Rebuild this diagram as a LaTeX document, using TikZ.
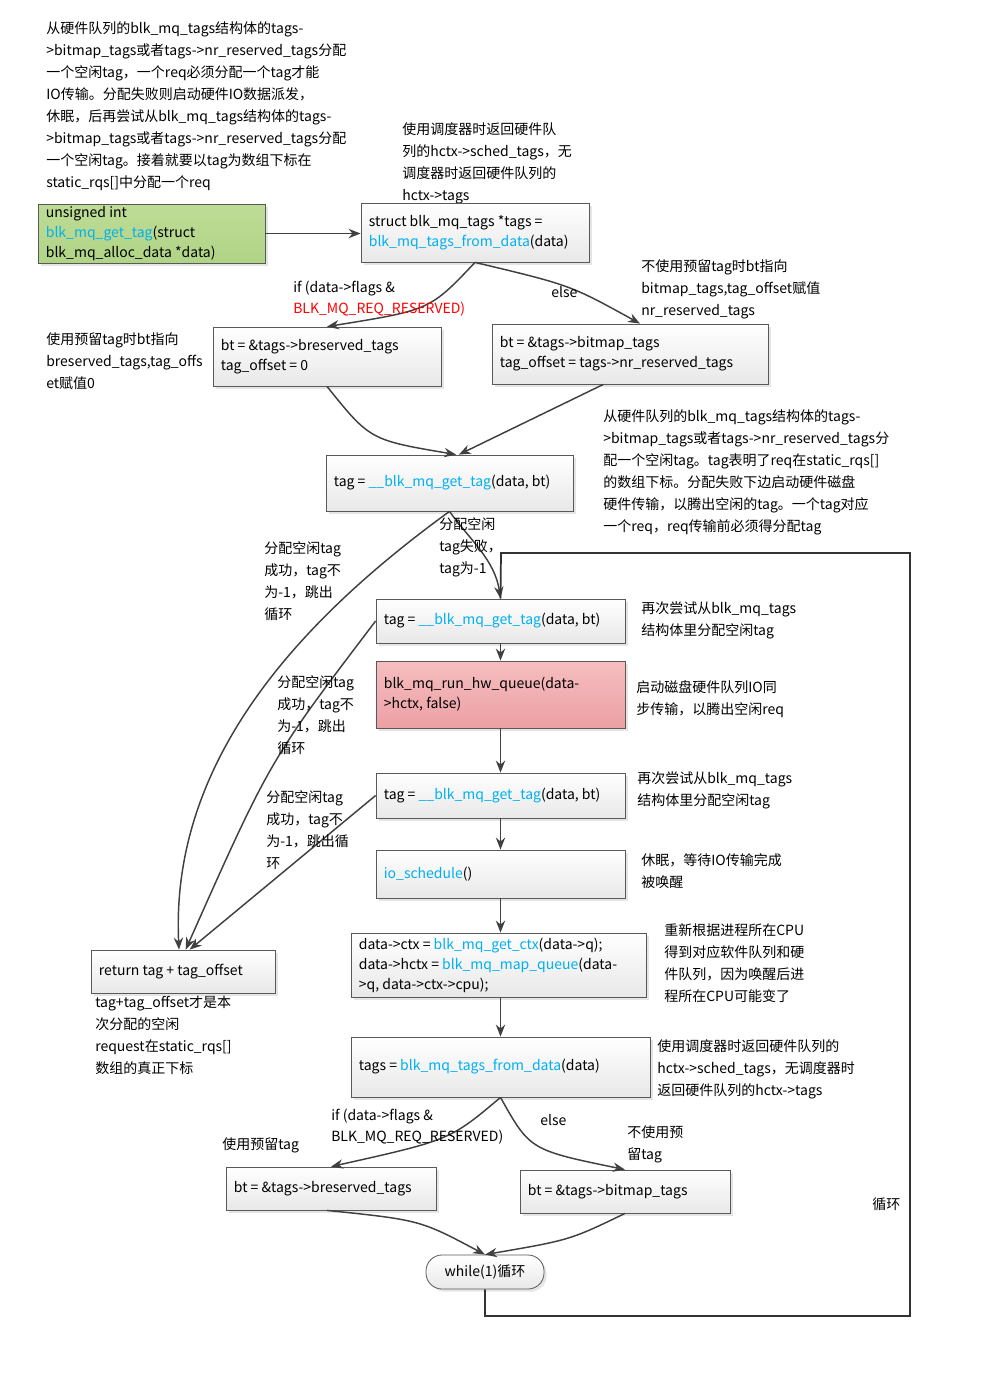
\documentclass[tikz,border=0pt]{standalone}
\usepackage{fontspec}
\setmainfont{Noto Sans CJK SC}
\usetikzlibrary{arrows.meta,fit,shadows}
\definecolor{fb}{HTML}{00B0F0}
\definecolor{ln}{HTML}{404040}
\begin{document}
\begin{tikzpicture}[x=0.75pt,y=-0.75pt,
  box/.style={draw=black!65,line width=0.6pt,top color=white,bottom color=black!9,drop shadow={shadow xshift=2pt,shadow yshift=-2pt,fill=black!20}},
  note/.style={anchor=north west,align=left,inner sep=0pt,font=\fontsize{10.5}{16.5}\selectfont},
  btxt/.style={anchor=west,align=left,inner sep=0pt,font=\fontsize{10.5}{15}\selectfont},
  arr/.style={draw=ln,line width=1.1pt,-{Stealth[length=9pt,width=7pt]}},
  lbl/.style={inner sep=0pt,font=\fontsize{10.5}{16.5}\selectfont,align=left}]
\useasboundingbox (0,0) rectangle (981,1400);
\newcommand\bx[7][]{\node[box,#1,fit={(#3,#4)(#5,#6)},inner sep=0pt](#2){};
  \node[btxt] at ([xshift=6pt]#2.west) {#7};}
\newcommand\fn[1]{\textcolor{fb}{#1}}
% notes
\node[note] at (46,21) {从硬件队列的blk\_mq\_tags结构体的tags-\\>bitmap\_tags或者tags->nr\_reserved\_tags分配\\一个空闲tag，一个req必须分配一个tag才能\\IO传输。分配失败则启动硬件IO数据派发，\\休眠，后再尝试从blk\_mq\_tags结构体的tags-\\>bitmap\_tags或者tags->nr\_reserved\_tags分配\\一个空闲tag。接着就要以tag为数组下标在\\static\_rqs[]中分配一个req};
\node[note] at (402,122) {使用调度器时返回硬件队\\列的hctx->sched\_tags，无\\调度器时返回硬件队列的\\hctx->tags};
\node[note] at (641,259) {不使用预留tag时bt指向\\bitmap\_tags,tag\_offset赋值\\nr\_reserved\_tags};
\node[note] at (46,332) {使用预留tag时bt指向\\breserved\_tags,tag\_offs\\et赋值0};
\node[note] at (603,409) {从硬件队列的blk\_mq\_tags结构体的tags-\\>bitmap\_tags或者tags->nr\_reserved\_tags分\\配一个空闲tag。tag表明了req在static\_rqs[]\\的数组下标。分配失败下边启动硬件磁盘\\硬件传输，以腾出空闲的tag。一个tag对应\\一个req，req传输前必须得分配tag};
\node[note] at (641,601) {再次尝试从blk\_mq\_tags\\结构体里分配空闲tag};
\node[note] at (636,680) {启动磁盘硬件队列IO同\\步传输，以腾出空闲req};
\node[note] at (637,771) {再次尝试从blk\_mq\_tags\\结构体里分配空闲tag};
\node[note] at (641,853) {休眠，等待IO传输完成\\被唤醒};
\node[note] at (95,995) {tag+tag\_offset才是本\\次分配的空闲\\request在static\_rqs[]\\数组的真正下标};
\node[note] at (664,923) {重新根据进程所在CPU\\得到对应软件队列和硬\\件队列，因为唤醒后进\\程所在CPU可能变了};
\node[note] at (657,1039) {使用调度器时返回硬件队列的\\hctx->sched\_tags，无调度器时\\返回硬件队列的hctx->tags};
\node[note] at (872,1197) {循环};
% boxes
\bx[top color={rgb,255:red,190;green,220;blue,150},bottom color={rgb,255:red,176;green,212;blue,134}]{g}{38}{204}{265}{263}{unsigned int\\\fn{blk\_mq\_get\_tag}(struct\\blk\_mq\_alloc\_data *data)}
\bx{st}{361}{203}{589}{262}{struct blk\_mq\_tags *tags =\\\fn{blk\_mq\_tags\_from\_data}(data)}
\bx{rv}{213}{327}{441}{386}{bt = \&tags->breserved\_tags\\tag\_offset = 0}
\bx{bm}{492}{324}{768}{384}{bt = \&tags->bitmap\_tags\\tag\_offset = tags->nr\_reserved\_tags}
\bx{t1}{326}{455}{573}{511}{tag = \fn{\_\_blk\_mq\_get\_tag}(data, bt)}
\bx{t2}{376}{599}{625}{643}{tag = \fn{\_\_blk\_mq\_get\_tag}(data, bt)}
\bx[top color={rgb,255:red,246;green,190;blue,192},bottom color={rgb,255:red,236;green,160;blue,164}]{rq}{376}{661}{625}{728}{blk\_mq\_run\_hw\_queue(data-\\>hctx, false)}
\bx{t3}{376}{773}{625}{818}{tag = \fn{\_\_blk\_mq\_get\_tag}(data, bt)}
\bx{io}{376}{850}{625}{898}{\fn{io\_schedule}()}
\bx{ret}{91}{950}{275}{993}{return tag + tag\_offset}
\bx{cx}{351}{933}{646}{997}{data->ctx = \fn{blk\_mq\_get\_ctx}(data->q);\\data->hctx = \fn{blk\_mq\_map\_queue}(data-\\>q, data->ctx->cpu);}
\bx{tg}{351}{1037}{650}{1097}{tags = \fn{blk\_mq\_tags\_from\_data}(data)}
\bx{rv2}{226}{1167}{436}{1210}{bt = \&tags->breserved\_tags}
\bx{bm2}{520}{1170}{730}{1213}{bt = \&tags->bitmap\_tags}
\node[box,rounded corners=12pt,minimum width=88.5pt,minimum height=25.5pt,font=\fontsize{10.5}{15}\selectfont] (wh) at (485,1272) {while(1)循环};
% connectors
\draw[arr] (g.east) -- (st.west|-g.east);
\draw[arr] (st.south) .. controls (430,310) .. (rv.north);
\draw[arr] (st.south) .. controls (570,285) .. ([xshift=7.5pt]bm.north);
\draw[arr] (rv.south) .. controls (370,440) .. ([xshift=5pt]t1.north);
\draw[arr] ([xshift=-20pt]bm.south) -- ([xshift=7pt]t1.north);
\draw[arr] (t1.south) .. controls (470,540) and (495,560) .. (t2.north);
\draw[arr] (t1.south) .. controls (300,620) and (170,760) .. ([xshift=-3pt]ret.north);
\draw[arr] (t2.west) .. controls (270,760) .. ([xshift=2pt]ret.north);
\draw[arr] (t3.west) -- ([xshift=5pt]ret.north);
\draw[arr] (t2) -- (rq);
\draw[arr] (rq) -- (t3);
\draw[arr] (t3) -- (io);
\draw[arr] (io.south) -- (cx.north-|io.south);
\draw[arr] (cx.south-|io.south) -- (tg.north-|io.south);
\draw[arr] (tg.south-|io.south) .. controls (450,1140) .. (rv2.north);
\draw[arr] (tg.south-|io.south) .. controls (530,1150) .. (bm2.north);
\draw[arr] ([xshift=-3pt]rv2.south) .. controls (420,1220) .. (wh.north);
\draw[arr] (bm2.south) .. controls (570,1240) .. (wh.north);
\draw[black!80,line width=1.3pt] (wh.south) -- (wh.south|-0,1316) -- (910,1316) -- (910,553) -- (501,553) -- (t2.north);
% labels
\node[lbl,anchor=west] at (293,289) {if (data->flags \&};
\node[lbl,anchor=west,text=red] at (293,309) {BLK\_MQ\_REQ\_RESERVED)};
\node[lbl,anchor=west] at (551,292) {else};
\node[lbl,anchor=north west] at (439,517) {分配空闲\\tag失败，\\tag为-1};
\node[lbl,anchor=north west] at (264,541) {分配空闲tag\\成功，tag不\\为-1，跳出\\循环};
\node[lbl,anchor=north west] at (277,675) {分配空闲tag\\成功，tag不\\为-1，跳出\\循环};
\node[lbl,anchor=north west] at (266,790) {分配空闲tag\\成功，tag不\\为-1，跳出循\\环};
\node[lbl,anchor=west] at (331,1117) {if (data->flags \&};
\node[lbl,anchor=west] at (331,1137) {BLK\_MQ\_REQ\_RESERVED)};
\node[lbl,anchor=west] at (540,1120) {else};
\node[lbl,anchor=west] at (222,1145) {使用预留tag};
\node[lbl,anchor=north west] at (627,1125) {不使用预\\留tag};
\end{tikzpicture}
\end{document}
